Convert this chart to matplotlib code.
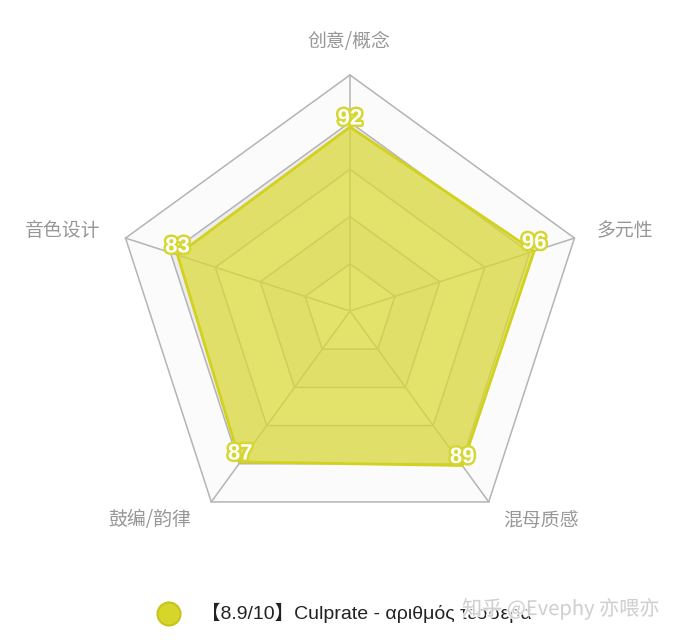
import matplotlib
matplotlib.use('Agg')
import matplotlib.pyplot as plt
import matplotlib.patheffects as pe
from matplotlib.patches import Polygon, Circle
import numpy as np

# radar data, counter-clockwise from the top axis
indicators = ['创意/概念', '音色设计', '鼓编/韵律', '混母质感', '多元性']
scores = [92, 83, 87, 89, 96]
indicator_max = [118, 108, 110, 110, 117]
legend_label = '【8.9/10】Culprate - αριθμός τέσσερα'
watermark = '知乎 @Evephy 亦喂亦'

cjk = ['Noto Sans CJK SC', 'DejaVu Sans']
latin = ['Liberation Sans', 'Noto Sans CJK SC', 'DejaVu Sans']

cx, cy, R = 350, 311, 236
n = len(indicators)
angles = np.pi / 2 + np.arange(n) * 2 * np.pi / n


def pts(frac):
    frac = np.broadcast_to(frac, (n,))
    return np.column_stack([cx + R * frac * np.cos(angles), cy - R * frac * np.sin(angles)])


fig = plt.figure(figsize=(6.8, 6.4), dpi=100)
ax = fig.add_axes([0, 0, 1, 1])
ax.set_xlim(0, 680)
ax.set_ylim(640, 0)
ax.axis('off')

# split areas, alternating shades from the centre outwards
band_colors = ['#fbfbfb', '#ececf2']
for i in range(5, 0, -1):
    ax.add_patch(Polygon(pts(i / 5), closed=True, facecolor=band_colors[(i - 1) % 2],
                         edgecolor='none', zorder=1))
for i in range(1, 6):
    ax.add_patch(Polygon(pts(i / 5), closed=True, fill=False, edgecolor='#b4b4b4',
                         lw=1.1, zorder=2))
outer = pts(1.0)
for x, y in outer:
    ax.plot([cx, x], [cy, y], color='#b4b4b4', lw=1.1, zorder=2)

# the series
fracs = np.array(scores) / np.array(indicator_max)
poly = pts(fracs)
ax.add_patch(Polygon(poly, closed=True, facecolor='#dada34', alpha=0.72, edgecolor='none', zorder=3))
ax.add_patch(Polygon(poly, closed=True, fill=False, edgecolor='#d2d21e', lw=2, zorder=4))

for (x, y), s in zip(poly, scores):
    ax.text(x, y - 8, str(s), ha='center', va='center', fontsize=16, color='white',
            family=latin, weight='bold', zorder=6,
            path_effects=[pe.withStroke(linewidth=3.5, foreground='#d6d630')])

# indicator names
name_pos = [(349, 41), (63, 230), (150, 520), (541, 520), (625, 230)]
for (x, y), name in zip(name_pos, indicators):
    ax.text(x, y, name, ha='center', va='center', fontsize=13.6, color='#979797', family=cjk)

# legend
ax.add_patch(Circle((169, 614), 11.5, facecolor='#d6d62a', edgecolor='#c4c41c', lw=1.5, zorder=5))
ax.text(201, 613, legend_label, ha='left', va='center', fontsize=14, color='#222222',
        family=latin, zorder=5)
ax.text(462, 609, watermark, ha='left', va='center', fontsize=14.5, color='#c8c8c8',
        alpha=0.85, family=cjk, zorder=6,
        path_effects=[pe.withStroke(linewidth=2, foreground='white')])

fig.savefig('out.png', dpi=100)
